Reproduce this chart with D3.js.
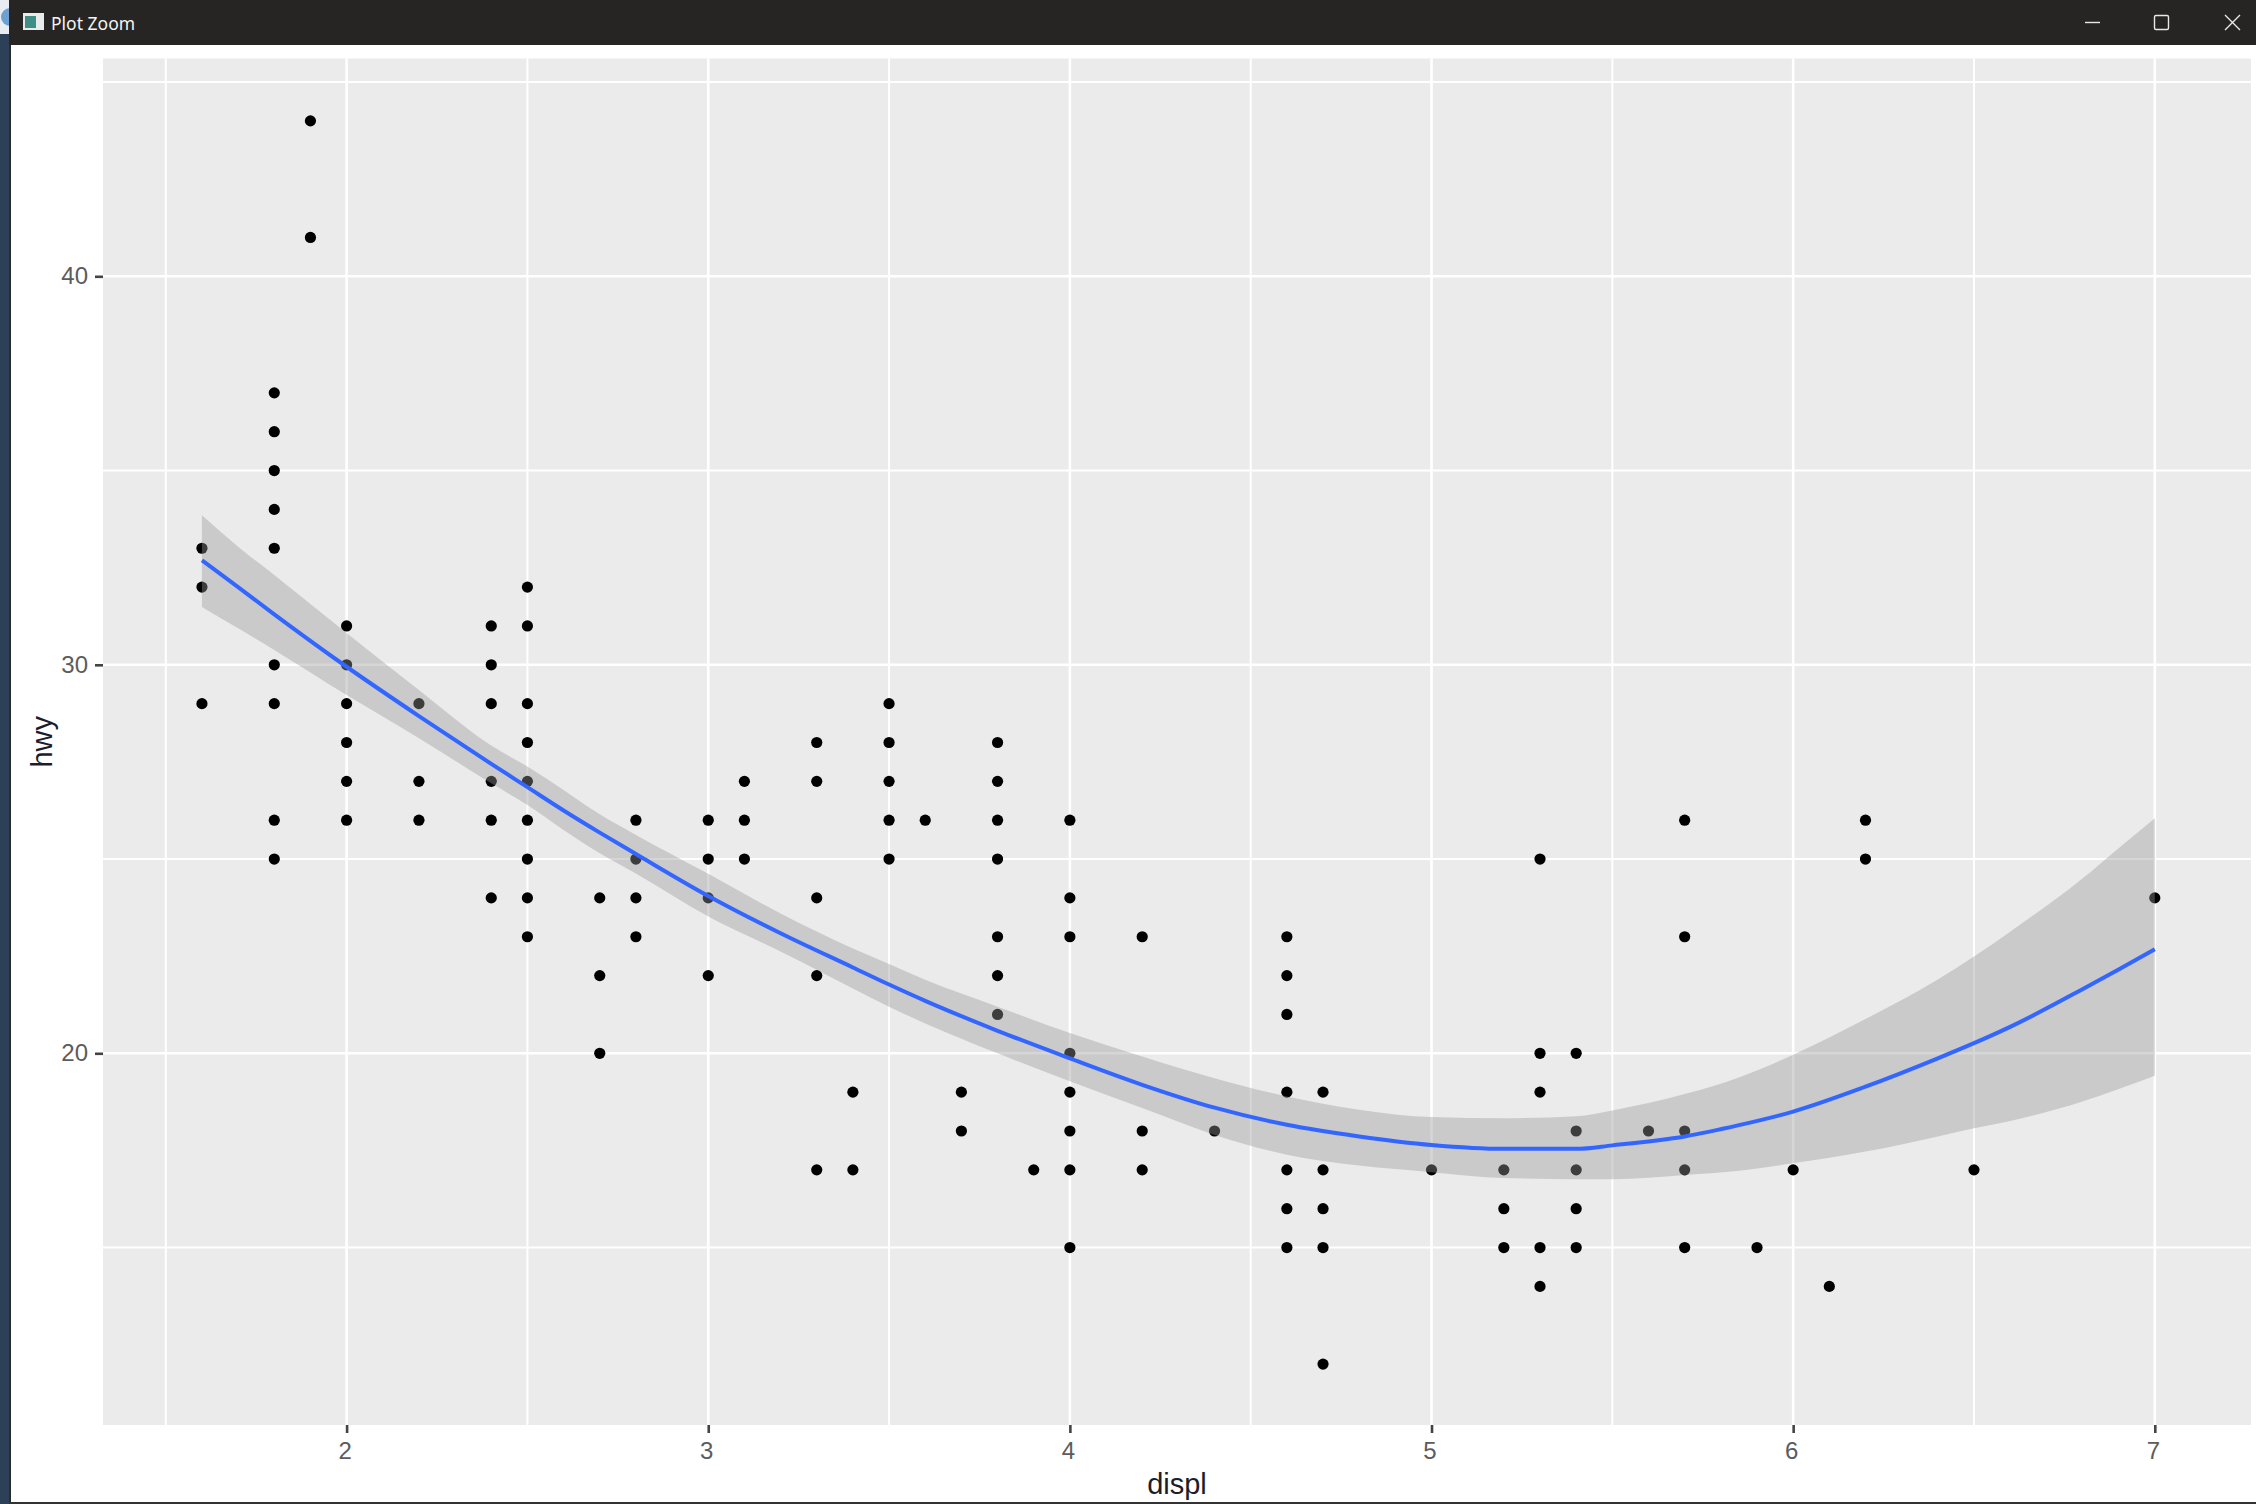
<!DOCTYPE html>
<html>
<head>
<meta charset="utf-8">
<title>Plot Zoom</title>
<script src="https://cdn.jsdelivr.net/npm/d3@7"></script>
<style>
    html, body { margin: 0; padding: 0; background: #fff; overflow: hidden; }
    svg { display: block; }
    text { font-family: "Liberation Sans", Arial, sans-serif; }
</style>
</head>
<body>
<div id="chart"></div>
<script>
// points, one row per displ column
const displ = [
    1.6, 1.6, 1.6,
    1.8, 1.8, 1.8, 1.8, 1.8, 1.8, 1.8, 1.8, 1.8,
    1.9, 1.9,
    2, 2, 2, 2, 2, 2,
    2.2, 2.2, 2.2,
    2.4, 2.4, 2.4, 2.4, 2.4, 2.4,
    2.5, 2.5, 2.5, 2.5, 2.5, 2.5, 2.5, 2.5, 2.5,
    2.7, 2.7, 2.7,
    2.8, 2.8, 2.8, 2.8,
    3, 3, 3, 3,
    3.1, 3.1, 3.1,
    3.3, 3.3, 3.3, 3.3, 3.3,
    3.4, 3.4,
    3.5, 3.5, 3.5, 3.5, 3.5,
    3.6,
    3.7, 3.7,
    3.8, 3.8, 3.8, 3.8, 3.8, 3.8, 3.8,
    3.9,
    4, 4, 4, 4, 4, 4, 4, 4,
    4.2, 4.2, 4.2,
    4.4,
    4.6, 4.6, 4.6, 4.6, 4.6, 4.6, 4.6,
    4.7, 4.7, 4.7, 4.7, 4.7,
    5,
    5.2, 5.2, 5.2,
    5.3, 5.3, 5.3, 5.3, 5.3,
    5.4, 5.4, 5.4, 5.4, 5.4,
    5.6,
    5.7, 5.7, 5.7, 5.7, 5.7,
    5.9,
    6,
    6.1,
    6.2, 6.2,
    6.5,
    7
];
const hwy = [
    33, 32, 29,
    37, 36, 35, 34, 33, 30, 29, 26, 25,
    44, 41,
    31, 30, 29, 28, 27, 26,
    29, 27, 26,
    31, 30, 29, 27, 26, 24,
    32, 31, 29, 28, 27, 26, 25, 24, 23,
    24, 22, 20,
    26, 25, 24, 23,
    26, 25, 24, 22,
    27, 26, 25,
    28, 27, 24, 22, 17,
    19, 17,
    29, 28, 27, 26, 25,
    26,
    19, 18,
    28, 27, 26, 25, 23, 22, 21,
    17,
    26, 24, 23, 20, 19, 18, 17, 15,
    23, 18, 17,
    18,
    23, 22, 21, 19, 17, 16, 15,
    19, 17, 16, 15, 12,
    17,
    17, 16, 15,
    25, 20, 19, 15, 14,
    20, 18, 17, 16, 15,
    18,
    26, 23, 18, 17, 15,
    15,
    17,
    14,
    26, 25,
    17,
    24
];

// smooth line and its band, estimated along the curve
const smoothX = [1.6, 1.7, 1.8, 2, 2.2, 2.4, 2.5, 2.6, 2.7, 2.8, 3, 3.2, 3.4, 3.5, 3.6, 3.8, 4, 4.2, 4.4, 4.6, 4.8, 5, 5.2, 5.4, 5.5, 5.7, 5.85, 6, 6.2, 6.4, 6.5, 6.6, 6.8, 6.9, 7];
const smoothFit = [32.69, 32.0, 31.3, 29.95, 28.68, 27.45, 26.85, 26.25, 25.68, 25.13, 24.05, 23.09, 22.21, 21.77, 21.35, 20.58, 19.87, 19.19, 18.6, 18.16, 17.86, 17.64, 17.54, 17.54, 17.63, 17.86, 18.15, 18.5, 19.14, 19.87, 20.26, 20.68, 21.65, 22.16, 22.68];
const smoothUpper = [33.85, 33.04, 32.31, 30.82, 29.35, 27.92, 27.38, 26.78, 26.15, 25.62, 24.62, 23.6, 22.7, 22.3, 21.89, 21.2, 20.52, 19.92, 19.36, 18.89, 18.55, 18.36, 18.33, 18.38, 18.53, 18.95, 19.38, 19.96, 20.88, 21.9, 22.49, 23.13, 24.5, 25.28, 26.05];
const smoothLower = [31.49, 30.94, 30.38, 29.22, 28.11, 26.95, 26.39, 25.75, 25.15, 24.63, 23.52, 22.62, 21.67, 21.2, 20.77, 20, 19.28, 18.59, 17.9, 17.39, 17.11, 16.94, 16.79, 16.76, 16.76, 16.87, 16.98, 17.17, 17.47, 17.86, 18.07, 18.26, 18.76, 19.08, 19.42];

const xMajor = [2, 3, 4, 5, 6, 7];
const xMinor = [1.5, 2.5, 3.5, 4.5, 5.5, 6.5];
const yMajor = [20, 30, 40];
const yMinor = [15, 25, 35, 45];

const width = 2256, height = 1504;
const panel = { left: 103, right: 2251, top: 58.5, bottom: 1425 };

const svg = d3.select('#chart')
    .append('svg')
    .attr('width', width)
    .attr('height', height);

const x = d3.scaleLinear().domain([2, 7]).range([346.6, 2154.8]);
const y = d3.scaleLinear().domain([20, 40]).range([1053.3, 276.3]);

function drawWindow() {
    svg.append('rect').attr('width', 10).attr('height', height).attr('fill', '#2c4158');
    svg.append('rect').attr('width', 10).attr('height', 34).attr('fill', '#e9edf1');
    svg.append('circle').attr('cx', 10).attr('cy', 17).attr('r', 9).attr('fill', '#6fa0d2');
    svg.append('rect').attr('x', 9).attr('width', 2).attr('height', height).attr('fill', '#2b2b2b');
    svg.append('rect').attr('x', 9).attr('y', 1502).attr('width', width).attr('height', 2).attr('fill', '#333');

    // title bar
    svg.append('rect').attr('x', 9).attr('width', width).attr('height', 45).attr('fill', '#262523');
    svg.append('rect').attr('x', 23).attr('y', 13).attr('width', 21).attr('height', 17).attr('fill', '#e8ecec');
    svg.append('rect').attr('x', 25).attr('y', 16).attr('width', 11).attr('height', 12).attr('fill', '#3f8f86');
    svg.append('text').attr('x', 51).attr('y', 30)
        .style('font-family', '"Noto Sans", sans-serif')
        .style('font-size', '17.5px')
        .attr('fill', '#f4f4f4')
        .text('Plot Zoom');

    const btn = svg.append('g').attr('fill', 'none').attr('stroke', '#e8e8e8').attr('stroke-width', 1.4);
    btn.append('path').attr('d', 'M2085 22.5H2100');
    btn.append('rect').attr('x', 2154.5).attr('y', 15.5).attr('width', 14).attr('height', 14).attr('rx', 1.5);
    btn.append('path').attr('d', 'M2225 15L2240 30M2240 15L2225 30');
}

function drawPanel() {
    svg.append('rect')
        .attr('x', panel.left)
        .attr('y', panel.top)
        .attr('width', panel.right - panel.left)
        .attr('height', panel.bottom - panel.top)
        .attr('fill', '#ebebeb');

    const grid = svg.append('g').attr('stroke', '#fff').attr('fill', 'none');
    const vLines = (vals, w) => grid.selectAll(null).data(vals).enter().append('line')
        .attr('x1', d => x(d)).attr('x2', d => x(d))
        .attr('y1', panel.top).attr('y2', panel.bottom)
        .attr('stroke-width', w);
    const hLines = (vals, w) => grid.selectAll(null).data(vals).enter().append('line')
        .attr('x1', panel.left).attr('x2', panel.right)
        .attr('y1', d => y(d)).attr('y2', d => y(d))
        .attr('stroke-width', w);
    vLines(xMinor, 2);
    hLines(yMinor, 2);
    vLines(xMajor, 2.6);
    hLines(yMajor, 2.6);
}

function drawAxes() {
    const xAxis = d3.axisBottom(x).tickValues(xMajor).tickFormat(d3.format('d')).tickSize(8).tickPadding(9);
    const yAxis = d3.axisLeft(y).tickValues(yMajor).tickFormat(d3.format('d')).tickSize(8).tickPadding(7);

    const gx = svg.append('g').attr('transform', `translate(0,${panel.bottom})`).call(xAxis);
    const gy = svg.append('g').attr('transform', `translate(${panel.left},0)`).call(yAxis);

    [gx, gy].forEach(g => {
        g.select('.domain').remove();
        g.selectAll('line').attr('stroke', '#444').attr('stroke-width', 2.6);
        g.selectAll('text')
            .style('font-family', '"Liberation Sans", Arial, sans-serif')
            .style('font-size', '24px')
            .attr('fill', '#5c5c5c');
    });
    gx.selectAll('text').attr('dx', -2);

    svg.append('text')
        .attr('x', (panel.left + panel.right) / 2)
        .attr('y', 1494)
        .attr('text-anchor', 'middle')
        .style('font-size', '29px')
        .attr('fill', '#1c1c2c')
        .text('displ');

    svg.append('text')
        .attr('transform', `translate(51.7,${(panel.top + panel.bottom) / 2}) rotate(-90)`)
        .attr('text-anchor', 'middle')
        .style('font-size', '29px')
        .attr('fill', '#1c1c2c')
        .text('hwy');
}

function drawPoints() {
    svg.append('g')
        .selectAll('circle')
        .data(displ)
        .enter()
        .append('circle')
        .attr('cx', d => x(d))
        .attr('cy', (d, i) => y(hwy[i]))
        .attr('r', 5.6)
        .attr('fill', '#000');
}

function drawSmooth() {
    const area = d3.area()
        .x(d => x(d))
        .y0((d, i) => y(smoothLower[i]))
        .y1((d, i) => y(smoothUpper[i]))
        .curve(d3.curveMonotoneX);
    const line = d3.line()
        .x(d => x(d))
        .y((d, i) => y(smoothFit[i]))
        .curve(d3.curveMonotoneX);

    svg.append('path')
        .datum(smoothX)
        .attr('d', area)
        .attr('fill', '#999')
        .attr('fill-opacity', 0.4);
    svg.append('path')
        .datum(smoothX)
        .attr('d', line)
        .attr('fill', 'none')
        .attr('stroke', '#3366ff')
        .attr('stroke-width', 4);
}

drawWindow();
drawPanel();
drawPoints();
drawSmooth();
drawAxes();
</script>
</body>
</html>
